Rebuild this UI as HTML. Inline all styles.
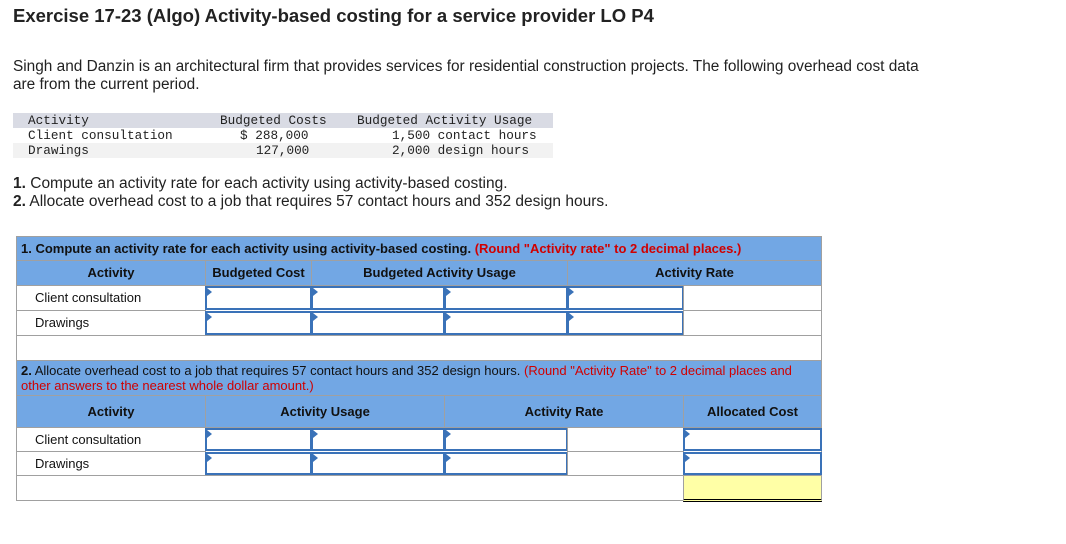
<!DOCTYPE html>
<html><head><meta charset="utf-8">
<style>
body{margin:0;width:1066px;height:544px;background:#fff;position:relative;overflow:hidden;font-family:"Liberation Sans",Arial,sans-serif;color:#222}
.a{position:absolute}
.mono{font-family:"Liberation Mono",monospace;font-size:12.7px;line-height:15px;white-space:pre;color:#222}
.cell{position:absolute;box-sizing:border-box;border:1px solid #a0a0a0}
.hd{background:#72a7e4;font-weight:bold;font-size:13px;text-align:center;line-height:24px;color:#111}
.lbl{font-size:13px;padding-left:18px;line-height:24px;color:#111}
.in{position:absolute;box-sizing:border-box;border:2px solid #3a72b8;background:#fff}
.in::before{content:"";position:absolute;left:0;top:0;border-left:5px solid #3a72b8;border-top:4px solid transparent;border-bottom:4px solid transparent}
.red{color:#d00000}
</style></head><body>
<div class="a" style="left:13px;top:5px;font-size:18.5px;font-weight:bold;color:#222;white-space:nowrap">Exercise 17-23 (Algo) Activity-based costing for a service provider LO P4</div>
<div class="a" style="left:13px;top:58px;font-size:15.4px;line-height:18px;white-space:nowrap;color:#222">Singh and Danzin is an architectural firm that provides services for residential construction projects. The following overhead cost data<br>are from the current period.</div>

<div>
<div class="a" style="left:13px;top:113px;width:540px;height:15px;background:#d9dbe4"></div>
<div class="a" style="left:13px;top:143px;width:540px;height:15px;background:#f2f2f2"></div>
<div class="a mono" style="left:28px;top:113px">Activity</div>
<div class="a mono" style="left:28px;top:128px">Client consultation</div>
<div class="a mono" style="left:28px;top:143px">Drawings</div>
<div class="a mono" style="left:220px;top:113px">Budgeted Costs</div>
<div class="a mono" style="left:240px;top:128px">$ 288,000</div>
<div class="a mono" style="left:256px;top:143px">127,000</div>
<div class="a mono" style="left:357px;top:113px">Budgeted Activity Usage</div>
<div class="a mono" style="left:392px;top:128px">1,500 contact hours</div>
<div class="a mono" style="left:392px;top:143px">2,000 design hours</div>
</div>

<div class="a" style="left:13px;top:175px;font-size:15.5px;line-height:18px;color:#222;white-space:nowrap"><b>1.</b> Compute an activity rate for each activity using activity-based costing.<br><b>2.</b> Allocate overhead cost to a job that requires 57 contact hours and 352 design hours.</div>

<!-- section 1 -->
<div class="cell hd" style="left:16px;top:236px;width:806px;height:25px;text-align:left;padding-left:4px;white-space:nowrap">1. Compute an activity rate for each activity using activity-based costing. <span class="red">(Round "Activity rate" to 2 decimal places.)</span></div>
<div class="cell hd" style="left:16px;top:260px;width:190px;height:26px">Activity</div>
<div class="cell hd" style="left:205px;top:260px;width:107px;height:26px">Budgeted Cost</div>
<div class="cell hd" style="left:311px;top:260px;width:257px;height:26px">Budgeted Activity Usage</div>
<div class="cell hd" style="left:567px;top:260px;width:255px;height:26px">Activity Rate</div>

<div class="cell lbl" style="left:16px;top:285px;width:190px;height:26px">Client consultation</div>
<div class="cell lbl" style="left:16px;top:310px;width:190px;height:26px">Drawings</div>
<div class="cell" style="left:205px;top:285px;width:617px;height:51px"></div>
<div class="in" style="left:205px;top:286px;width:107px;height:24px"></div>
<div class="in" style="left:311px;top:286px;width:134px;height:24px"></div>
<div class="in" style="left:444px;top:286px;width:124px;height:24px"></div>
<div class="in" style="left:567px;top:286px;width:117px;height:24px"></div>
<div class="cell" style="left:683px;top:285px;width:139px;height:26px"></div>
<div class="in" style="left:205px;top:311px;width:107px;height:24px"></div>
<div class="in" style="left:311px;top:311px;width:134px;height:24px"></div>
<div class="in" style="left:444px;top:311px;width:124px;height:24px"></div>
<div class="in" style="left:567px;top:311px;width:117px;height:24px"></div>
<div class="cell" style="left:683px;top:310px;width:139px;height:26px"></div>
<div class="cell" style="left:16px;top:335px;width:806px;height:26px"></div>

<!-- section 2 -->
<div class="cell hd" style="left:16px;top:360px;width:806px;height:36px;text-align:left;padding-left:4px;padding-right:4px;line-height:15px;font-weight:normal;padding-top:2px"><b>2.</b> Allocate overhead cost to a job that requires 57 contact hours and 352 design hours. <span class="red">(Round "Activity Rate" to 2 decimal places and<br>other answers to the nearest whole dollar amount.)</span></div>
<div class="cell hd" style="left:16px;top:395px;width:190px;height:33px;line-height:31px">Activity</div>
<div class="cell hd" style="left:205px;top:395px;width:240px;height:33px;line-height:31px">Activity Usage</div>
<div class="cell hd" style="left:444px;top:395px;width:240px;height:33px;line-height:31px">Activity Rate</div>
<div class="cell hd" style="left:683px;top:395px;width:139px;height:33px;line-height:31px">Allocated Cost</div>

<div class="cell lbl" style="left:16px;top:427px;width:190px;height:25px">Client consultation</div>
<div class="cell lbl" style="left:16px;top:451px;width:190px;height:25px">Drawings</div>
<div class="cell" style="left:205px;top:427px;width:617px;height:49px"></div>
<div class="in" style="left:205px;top:428px;width:107px;height:23px"></div>
<div class="in" style="left:311px;top:428px;width:134px;height:23px"></div>
<div class="in" style="left:444px;top:428px;width:124px;height:23px"></div>
<div class="cell" style="left:567px;top:427px;width:117px;height:25px"></div>
<div class="in" style="left:683px;top:428px;width:139px;height:23px"></div>
<div class="in" style="left:205px;top:452px;width:107px;height:23px"></div>
<div class="in" style="left:311px;top:452px;width:134px;height:23px"></div>
<div class="in" style="left:444px;top:452px;width:124px;height:23px"></div>
<div class="cell" style="left:567px;top:451px;width:117px;height:25px"></div>
<div class="in" style="left:683px;top:452px;width:139px;height:23px"></div>
<div class="cell" style="left:16px;top:475px;width:668px;height:26px"></div>
<div class="a" style="left:683px;top:475px;width:139px;background:#ffffa6;border:1px solid #a0a0a0;box-sizing:border-box;border-bottom:3px double #000;height:27px"></div>
</body></html>
